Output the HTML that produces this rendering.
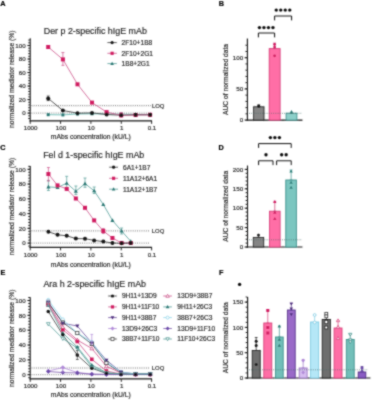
<!DOCTYPE html>
<html><head><meta charset="utf-8"><style>
html,body{margin:0;padding:0;background:#fff;width:372px;height:400px;overflow:hidden}
svg{display:block}
text{font-family:"Liberation Sans",sans-serif;stroke:currentColor;stroke-width:0.18px}
</style></head><body>
<svg width="372" height="400" viewBox="0 0 372 400">
<defs><filter id="bl" x="0" y="0" width="372" height="400" filterUnits="userSpaceOnUse"><feConvolveMatrix order="3" kernelMatrix="0.04 0.1 0.04 0.1 0.44 0.1 0.04 0.1 0.04" edgeMode="duplicate"/></filter></defs>
<rect width="372" height="400" fill="#fff"/>
<g filter="url(#bl)">
<text x="0.2" y="6.3" font-size="7.3" text-anchor="start" font-weight="bold" fill="#000" color="#000">A</text>
<text x="95.3" y="33.6" font-size="8.9" text-anchor="middle" font-weight="normal" fill="#2a2a2a" color="#2a2a2a">Der p 2-specific hIgE mAb</text>
<line x1="30.2" y1="38.2" x2="30.2" y2="121.4" stroke="#1a1a1a" stroke-width="1.1"/>
<line x1="28.2" y1="118.51" x2="30.2" y2="118.51" stroke="#1a1a1a" stroke-width="0.9"/>
<line x1="28.2" y1="115.8" x2="30.2" y2="115.8" stroke="#1a1a1a" stroke-width="0.9"/>
<line x1="28.2" y1="113.1" x2="30.2" y2="113.1" stroke="#1a1a1a" stroke-width="0.9"/>
<line x1="28.2" y1="110.4" x2="30.2" y2="110.4" stroke="#1a1a1a" stroke-width="0.9"/>
<line x1="28.2" y1="107.69" x2="30.2" y2="107.69" stroke="#1a1a1a" stroke-width="0.9"/>
<line x1="28.2" y1="104.99" x2="30.2" y2="104.99" stroke="#1a1a1a" stroke-width="0.9"/>
<line x1="28.2" y1="102.28" x2="30.2" y2="102.28" stroke="#1a1a1a" stroke-width="0.9"/>
<line x1="28.2" y1="99.58" x2="30.2" y2="99.58" stroke="#1a1a1a" stroke-width="0.9"/>
<line x1="28.2" y1="96.88" x2="30.2" y2="96.88" stroke="#1a1a1a" stroke-width="0.9"/>
<line x1="28.2" y1="94.17" x2="30.2" y2="94.17" stroke="#1a1a1a" stroke-width="0.9"/>
<line x1="28.2" y1="91.47" x2="30.2" y2="91.47" stroke="#1a1a1a" stroke-width="0.9"/>
<line x1="28.2" y1="88.76" x2="30.2" y2="88.76" stroke="#1a1a1a" stroke-width="0.9"/>
<line x1="28.2" y1="86.06" x2="30.2" y2="86.06" stroke="#1a1a1a" stroke-width="0.9"/>
<line x1="28.2" y1="83.36" x2="30.2" y2="83.36" stroke="#1a1a1a" stroke-width="0.9"/>
<line x1="28.2" y1="80.65" x2="30.2" y2="80.65" stroke="#1a1a1a" stroke-width="0.9"/>
<line x1="28.2" y1="77.95" x2="30.2" y2="77.95" stroke="#1a1a1a" stroke-width="0.9"/>
<line x1="28.2" y1="75.24" x2="30.2" y2="75.24" stroke="#1a1a1a" stroke-width="0.9"/>
<line x1="28.2" y1="72.54" x2="30.2" y2="72.54" stroke="#1a1a1a" stroke-width="0.9"/>
<line x1="28.2" y1="69.84" x2="30.2" y2="69.84" stroke="#1a1a1a" stroke-width="0.9"/>
<line x1="28.2" y1="67.13" x2="30.2" y2="67.13" stroke="#1a1a1a" stroke-width="0.9"/>
<line x1="28.2" y1="64.43" x2="30.2" y2="64.43" stroke="#1a1a1a" stroke-width="0.9"/>
<line x1="28.2" y1="61.72" x2="30.2" y2="61.72" stroke="#1a1a1a" stroke-width="0.9"/>
<line x1="28.2" y1="59.02" x2="30.2" y2="59.02" stroke="#1a1a1a" stroke-width="0.9"/>
<line x1="28.2" y1="56.32" x2="30.2" y2="56.32" stroke="#1a1a1a" stroke-width="0.9"/>
<line x1="28.2" y1="53.61" x2="30.2" y2="53.61" stroke="#1a1a1a" stroke-width="0.9"/>
<line x1="28.2" y1="50.91" x2="30.2" y2="50.91" stroke="#1a1a1a" stroke-width="0.9"/>
<line x1="28.2" y1="48.2" x2="30.2" y2="48.2" stroke="#1a1a1a" stroke-width="0.9"/>
<line x1="28.2" y1="45.5" x2="30.2" y2="45.5" stroke="#1a1a1a" stroke-width="0.9"/>
<line x1="28.2" y1="42.8" x2="30.2" y2="42.8" stroke="#1a1a1a" stroke-width="0.9"/>
<line x1="28.2" y1="40.09" x2="30.2" y2="40.09" stroke="#1a1a1a" stroke-width="0.9"/>
<line x1="27.3" y1="113.1" x2="30.2" y2="113.1" stroke="#1a1a1a" stroke-width="0.9"/>
<text x="25.6" y="115.3" font-size="6.2" text-anchor="end" font-weight="normal" fill="#2a2a2a" color="#2a2a2a">0</text>
<line x1="27.3" y1="99.58" x2="30.2" y2="99.58" stroke="#1a1a1a" stroke-width="0.9"/>
<text x="25.6" y="101.78" font-size="6.2" text-anchor="end" font-weight="normal" fill="#2a2a2a" color="#2a2a2a">20</text>
<line x1="27.3" y1="86.06" x2="30.2" y2="86.06" stroke="#1a1a1a" stroke-width="0.9"/>
<text x="25.6" y="88.26" font-size="6.2" text-anchor="end" font-weight="normal" fill="#2a2a2a" color="#2a2a2a">40</text>
<line x1="27.3" y1="72.54" x2="30.2" y2="72.54" stroke="#1a1a1a" stroke-width="0.9"/>
<text x="25.6" y="74.74" font-size="6.2" text-anchor="end" font-weight="normal" fill="#2a2a2a" color="#2a2a2a">60</text>
<line x1="27.3" y1="59.02" x2="30.2" y2="59.02" stroke="#1a1a1a" stroke-width="0.9"/>
<text x="25.6" y="61.22" font-size="6.2" text-anchor="end" font-weight="normal" fill="#2a2a2a" color="#2a2a2a">80</text>
<line x1="27.3" y1="45.5" x2="30.2" y2="45.5" stroke="#1a1a1a" stroke-width="0.9"/>
<text x="25.6" y="47.7" font-size="6.2" text-anchor="end" font-weight="normal" fill="#2a2a2a" color="#2a2a2a">100</text>
<text x="14.4" y="79.2" font-size="6.75" text-anchor="middle" font-weight="normal" fill="#2a2a2a" color="#2a2a2a" transform="rotate(-90 14.4 79.2)">normalized mediator release (%)</text>
<line x1="29.65" y1="120.9" x2="152" y2="120.9" stroke="#1a1a1a" stroke-width="1.1"/>
<line x1="30.2" y1="120.9" x2="30.2" y2="123.9" stroke="#1a1a1a" stroke-width="0.9"/>
<text x="30.6" y="130.1" font-size="6.2" text-anchor="middle" font-weight="normal" fill="#2a2a2a" color="#2a2a2a">1000</text>
<line x1="60.55" y1="120.9" x2="60.55" y2="123.9" stroke="#1a1a1a" stroke-width="0.9"/>
<text x="60.95" y="130.1" font-size="6.2" text-anchor="middle" font-weight="normal" fill="#2a2a2a" color="#2a2a2a">100</text>
<line x1="90.9" y1="120.9" x2="90.9" y2="123.9" stroke="#1a1a1a" stroke-width="0.9"/>
<text x="91.3" y="130.1" font-size="6.2" text-anchor="middle" font-weight="normal" fill="#2a2a2a" color="#2a2a2a">10</text>
<line x1="121.25" y1="120.9" x2="121.25" y2="123.9" stroke="#1a1a1a" stroke-width="0.9"/>
<text x="121.65" y="130.1" font-size="6.2" text-anchor="middle" font-weight="normal" fill="#2a2a2a" color="#2a2a2a">1</text>
<line x1="151.6" y1="120.9" x2="151.6" y2="123.9" stroke="#1a1a1a" stroke-width="0.9"/>
<text x="152" y="130.1" font-size="6.2" text-anchor="middle" font-weight="normal" fill="#2a2a2a" color="#2a2a2a">0.1</text>
<text x="90.8" y="139.2" font-size="6.75" text-anchor="middle" font-weight="normal" fill="#2a2a2a" color="#2a2a2a">mAbs concentration (kU/L)</text>
<line x1="31.5" y1="105.7" x2="151" y2="105.7" stroke="#333" stroke-width="0.75" stroke-dasharray="0.9 1.3"/>
<line x1="31.5" y1="113.1" x2="151" y2="113.1" stroke="#444" stroke-width="0.75" stroke-dasharray="0.9 1.3"/>
<text x="151.9" y="107.8" font-size="5.9" text-anchor="start" font-weight="normal" fill="#2a2a2a" color="#2a2a2a">LOQ</text>
<polyline points="48.2,114.7 62.9,114.9 77.5,114 92,113.8 106.6,114 121.2,114.2 135.6,114.5 150.1,114.6" fill="none" stroke="#7cc3bd" stroke-width="1.0" stroke-linejoin="round"/>
<rect x="46.7" y="113.2" width="3" height="3" fill="#2a7773"/>
<rect x="61.4" y="113.4" width="3" height="3" fill="#2a7773"/>
<rect x="76" y="112.5" width="3" height="3" fill="#2a7773"/>
<rect x="90.5" y="112.3" width="3" height="3" fill="#2a7773"/>
<rect x="105.1" y="112.5" width="3" height="3" fill="#2a7773"/>
<rect x="119.7" y="112.7" width="3" height="3" fill="#2a7773"/>
<rect x="134.1" y="113" width="3" height="3" fill="#2a7773"/>
<rect x="148.6" y="113.1" width="3" height="3" fill="#2a7773"/>
<polyline points="48.2,98.4 62.9,110.5 77.5,113.2 92,112.9 106.6,114.5 121.2,115.3 135.6,114.8 150.1,114.8" fill="none" stroke="#2a2a2a" stroke-width="0.8" stroke-linejoin="round"/>
<polyline points="48.2,47 62.9,59.4 77.5,84.3 92,102.6 106.6,112.1 121.2,115.3 135.6,115 150.1,114.8" fill="none" stroke="#cc4f88" stroke-width="0.8" stroke-linejoin="round"/>
<line x1="62.9" y1="52.5" x2="62.9" y2="65.4" stroke="#cc4f88" stroke-width="0.7"/>
<line x1="61.4" y1="52.5" x2="64.4" y2="52.5" stroke="#cc4f88" stroke-width="0.7"/>
<line x1="61.4" y1="65.4" x2="64.4" y2="65.4" stroke="#cc4f88" stroke-width="0.7"/>
<line x1="121.2" y1="112.5" x2="121.2" y2="117" stroke="#cc4f88" stroke-width="0.7"/>
<line x1="119.7" y1="112.5" x2="122.7" y2="112.5" stroke="#cc4f88" stroke-width="0.7"/>
<line x1="119.7" y1="117" x2="122.7" y2="117" stroke="#cc4f88" stroke-width="0.7"/>
<rect x="46.2" y="45" width="4" height="4" fill="#d01a60"/>
<rect x="60.9" y="57.4" width="4" height="4" fill="#d01a60"/>
<rect x="75.5" y="82.3" width="4" height="4" fill="#d01a60"/>
<rect x="90" y="100.6" width="4" height="4" fill="#d01a60"/>
<rect x="104.6" y="110.1" width="4" height="4" fill="#d01a60"/>
<rect x="119.2" y="113.3" width="4" height="4" fill="#d01a60"/>
<rect x="133.6" y="113" width="4" height="4" fill="#d01a60"/>
<rect x="148.1" y="112.8" width="4" height="4" fill="#d01a60"/>
<line x1="48.2" y1="96" x2="48.2" y2="100.6" stroke="#333" stroke-width="0.7"/>
<line x1="46.7" y1="96" x2="49.7" y2="96" stroke="#333" stroke-width="0.7"/>
<line x1="46.7" y1="100.6" x2="49.7" y2="100.6" stroke="#333" stroke-width="0.7"/>
<circle cx="48.2" cy="98.4" r="2" fill="#161616"/>
<circle cx="62.9" cy="110.5" r="2" fill="#161616"/>
<circle cx="77.5" cy="113.2" r="2" fill="#161616"/>
<circle cx="92" cy="112.9" r="2" fill="#161616"/>
<circle cx="106.6" cy="114.5" r="2" fill="#161616"/>
<circle cx="121.2" cy="115.3" r="2" fill="#161616"/>
<circle cx="135.6" cy="114.8" r="2" fill="#161616"/>
<circle cx="150.1" cy="114.8" r="2" fill="#161616"/>
<line x1="107.4" y1="42.6" x2="116.8" y2="42.6" stroke="#333" stroke-width="0.8"/>
<circle cx="112.1" cy="42.6" r="1.6" fill="#161616"/>
<text x="121.6" y="45" font-size="6.6" text-anchor="start" font-weight="normal" fill="#2a2a2a" color="#2a2a2a">2F10+1B8</text>
<line x1="107.4" y1="53.3" x2="116.8" y2="53.3" stroke="#cc4f88" stroke-width="0.8"/>
<rect x="110.5" y="51.7" width="3.2" height="3.2" fill="#d01a60"/>
<text x="121.6" y="55.7" font-size="6.6" text-anchor="start" font-weight="normal" fill="#2a2a2a" color="#2a2a2a">2F10+2G1</text>
<line x1="107.4" y1="63.6" x2="116.8" y2="63.6" stroke="#519c97" stroke-width="0.8"/>
<polygon points="112.1,61.76 110.26,64.96 113.94,64.96" fill="#2a7773"/>
<text x="121.6" y="66" font-size="6.6" text-anchor="start" font-weight="normal" fill="#2a2a2a" color="#2a2a2a">1B8+2G1</text>
<text x="218.7" y="5.9" font-size="7.3" text-anchor="start" font-weight="bold" fill="#000" color="#000">B</text>
<line x1="247.4" y1="38.5" x2="247.4" y2="120.6" stroke="#1a1a1a" stroke-width="1.1"/>
<line x1="245.4" y1="120.1" x2="247.4" y2="120.1" stroke="#1a1a1a" stroke-width="0.9"/>
<line x1="245.4" y1="113.86" x2="247.4" y2="113.86" stroke="#1a1a1a" stroke-width="0.9"/>
<line x1="245.4" y1="107.62" x2="247.4" y2="107.62" stroke="#1a1a1a" stroke-width="0.9"/>
<line x1="245.4" y1="101.38" x2="247.4" y2="101.38" stroke="#1a1a1a" stroke-width="0.9"/>
<line x1="245.4" y1="95.14" x2="247.4" y2="95.14" stroke="#1a1a1a" stroke-width="0.9"/>
<line x1="245.4" y1="88.9" x2="247.4" y2="88.9" stroke="#1a1a1a" stroke-width="0.9"/>
<line x1="245.4" y1="82.66" x2="247.4" y2="82.66" stroke="#1a1a1a" stroke-width="0.9"/>
<line x1="245.4" y1="76.42" x2="247.4" y2="76.42" stroke="#1a1a1a" stroke-width="0.9"/>
<line x1="245.4" y1="70.18" x2="247.4" y2="70.18" stroke="#1a1a1a" stroke-width="0.9"/>
<line x1="245.4" y1="63.94" x2="247.4" y2="63.94" stroke="#1a1a1a" stroke-width="0.9"/>
<line x1="245.4" y1="57.7" x2="247.4" y2="57.7" stroke="#1a1a1a" stroke-width="0.9"/>
<line x1="245.4" y1="51.46" x2="247.4" y2="51.46" stroke="#1a1a1a" stroke-width="0.9"/>
<line x1="245.4" y1="45.22" x2="247.4" y2="45.22" stroke="#1a1a1a" stroke-width="0.9"/>
<line x1="244.5" y1="120.1" x2="247.4" y2="120.1" stroke="#1a1a1a" stroke-width="0.9"/>
<text x="243.2" y="122.3" font-size="6.2" text-anchor="end" font-weight="normal" fill="#2a2a2a" color="#2a2a2a">0</text>
<line x1="244.5" y1="88.9" x2="247.4" y2="88.9" stroke="#1a1a1a" stroke-width="0.9"/>
<text x="243.2" y="91.1" font-size="6.2" text-anchor="end" font-weight="normal" fill="#2a2a2a" color="#2a2a2a">50</text>
<line x1="244.5" y1="57.7" x2="247.4" y2="57.7" stroke="#1a1a1a" stroke-width="0.9"/>
<text x="243.2" y="59.9" font-size="6.2" text-anchor="end" font-weight="normal" fill="#2a2a2a" color="#2a2a2a">100</text>
<text x="228" y="79.5" font-size="6.7" text-anchor="middle" font-weight="normal" fill="#2a2a2a" color="#2a2a2a" transform="rotate(-90 228 79.5)">AUC of normalized data</text>
<line x1="246.9" y1="120.1" x2="302.5" y2="120.1" stroke="#1a1a1a" stroke-width="1.1"/>
<rect x="253.6" y="106.8" width="10.4" height="13.3" fill="#858585" stroke="#1a1a1a" stroke-width="0.9"/>
<rect x="269.2" y="48.6" width="10.9" height="71.5" fill="#ff6ea6" stroke="#d8407a" stroke-width="0.9"/>
<rect x="286.1" y="113.2" width="10.8" height="6.9" fill="#8ccfc9" stroke="#3a918c" stroke-width="0.9"/>
<line x1="258.8" y1="105" x2="258.8" y2="106.8" stroke="#1a1a1a" stroke-width="0.7"/>
<line x1="257.4" y1="105" x2="260.2" y2="105" stroke="#1a1a1a" stroke-width="0.7"/>
<line x1="257.4" y1="106.8" x2="260.2" y2="106.8" stroke="#1a1a1a" stroke-width="0.7"/>
<circle cx="258.8" cy="105.9" r="1.4" fill="#161616"/>
<circle cx="258.8" cy="106.5" r="1.4" fill="#161616"/>
<line x1="274.6" y1="43.1" x2="274.6" y2="48.6" stroke="#c8306c" stroke-width="0.7"/>
<line x1="273.2" y1="43.1" x2="276" y2="43.1" stroke="#c8306c" stroke-width="0.7"/>
<line x1="273.2" y1="48.6" x2="276" y2="48.6" stroke="#c8306c" stroke-width="0.7"/>
<circle cx="274.6" cy="44.4" r="1.4" fill="#d01a60"/>
<circle cx="274.6" cy="47.1" r="1.4" fill="#d01a60"/>
<circle cx="274.6" cy="55.8" r="1.4" fill="#d01a60"/>
<polygon points="291.5,109.99 289.89,112.79 293.11,112.79" fill="#2a7773"/>
<polygon points="291.5,111.19 289.89,113.99 293.11,113.99" fill="#2a7773"/>
<line x1="249" y1="113.3" x2="302" y2="113.3" stroke="#4a6a68" stroke-width="0.75" stroke-dasharray="0.9 1.3"/>
<polyline points="258.4,37.4 258.4,33 274.6,33 274.6,37.4" fill="none" stroke="#151515" stroke-width="1.0"/>
<polyline points="274.6,20.4 274.6,16 291.6,16 291.6,20.4" fill="none" stroke="#151515" stroke-width="1.0"/>
<circle cx="259.45" cy="27.6" r="1.7" fill="#111"/>
<circle cx="263.95" cy="27.6" r="1.7" fill="#111"/>
<circle cx="268.45" cy="27.6" r="1.7" fill="#111"/>
<circle cx="272.95" cy="27.6" r="1.7" fill="#111"/>
<circle cx="276.25" cy="10.1" r="1.7" fill="#111"/>
<circle cx="280.75" cy="10.1" r="1.7" fill="#111"/>
<circle cx="285.25" cy="10.1" r="1.7" fill="#111"/>
<circle cx="289.75" cy="10.1" r="1.7" fill="#111"/>
<text x="0.2" y="149.9" font-size="7.3" text-anchor="start" font-weight="bold" fill="#000" color="#000">C</text>
<text x="93.7" y="158" font-size="8.9" text-anchor="middle" font-weight="normal" fill="#2a2a2a" color="#2a2a2a">Fel d 1-specific hIgE mAb</text>
<line x1="30.2" y1="166" x2="30.2" y2="247.9" stroke="#1a1a1a" stroke-width="1.1"/>
<line x1="28.2" y1="246.05" x2="30.2" y2="246.05" stroke="#1a1a1a" stroke-width="0.9"/>
<line x1="28.2" y1="243.1" x2="30.2" y2="243.1" stroke="#1a1a1a" stroke-width="0.9"/>
<line x1="28.2" y1="240.15" x2="30.2" y2="240.15" stroke="#1a1a1a" stroke-width="0.9"/>
<line x1="28.2" y1="237.2" x2="30.2" y2="237.2" stroke="#1a1a1a" stroke-width="0.9"/>
<line x1="28.2" y1="234.24" x2="30.2" y2="234.24" stroke="#1a1a1a" stroke-width="0.9"/>
<line x1="28.2" y1="231.29" x2="30.2" y2="231.29" stroke="#1a1a1a" stroke-width="0.9"/>
<line x1="28.2" y1="228.34" x2="30.2" y2="228.34" stroke="#1a1a1a" stroke-width="0.9"/>
<line x1="28.2" y1="225.39" x2="30.2" y2="225.39" stroke="#1a1a1a" stroke-width="0.9"/>
<line x1="28.2" y1="222.44" x2="30.2" y2="222.44" stroke="#1a1a1a" stroke-width="0.9"/>
<line x1="28.2" y1="219.48" x2="30.2" y2="219.48" stroke="#1a1a1a" stroke-width="0.9"/>
<line x1="28.2" y1="216.53" x2="30.2" y2="216.53" stroke="#1a1a1a" stroke-width="0.9"/>
<line x1="28.2" y1="213.58" x2="30.2" y2="213.58" stroke="#1a1a1a" stroke-width="0.9"/>
<line x1="28.2" y1="210.63" x2="30.2" y2="210.63" stroke="#1a1a1a" stroke-width="0.9"/>
<line x1="28.2" y1="207.68" x2="30.2" y2="207.68" stroke="#1a1a1a" stroke-width="0.9"/>
<line x1="28.2" y1="204.72" x2="30.2" y2="204.72" stroke="#1a1a1a" stroke-width="0.9"/>
<line x1="28.2" y1="201.77" x2="30.2" y2="201.77" stroke="#1a1a1a" stroke-width="0.9"/>
<line x1="28.2" y1="198.82" x2="30.2" y2="198.82" stroke="#1a1a1a" stroke-width="0.9"/>
<line x1="28.2" y1="195.87" x2="30.2" y2="195.87" stroke="#1a1a1a" stroke-width="0.9"/>
<line x1="28.2" y1="192.92" x2="30.2" y2="192.92" stroke="#1a1a1a" stroke-width="0.9"/>
<line x1="28.2" y1="189.96" x2="30.2" y2="189.96" stroke="#1a1a1a" stroke-width="0.9"/>
<line x1="28.2" y1="187.01" x2="30.2" y2="187.01" stroke="#1a1a1a" stroke-width="0.9"/>
<line x1="28.2" y1="184.06" x2="30.2" y2="184.06" stroke="#1a1a1a" stroke-width="0.9"/>
<line x1="28.2" y1="181.11" x2="30.2" y2="181.11" stroke="#1a1a1a" stroke-width="0.9"/>
<line x1="28.2" y1="178.16" x2="30.2" y2="178.16" stroke="#1a1a1a" stroke-width="0.9"/>
<line x1="28.2" y1="175.2" x2="30.2" y2="175.2" stroke="#1a1a1a" stroke-width="0.9"/>
<line x1="28.2" y1="172.25" x2="30.2" y2="172.25" stroke="#1a1a1a" stroke-width="0.9"/>
<line x1="28.2" y1="169.3" x2="30.2" y2="169.3" stroke="#1a1a1a" stroke-width="0.9"/>
<line x1="28.2" y1="166.35" x2="30.2" y2="166.35" stroke="#1a1a1a" stroke-width="0.9"/>
<line x1="27.3" y1="243.1" x2="30.2" y2="243.1" stroke="#1a1a1a" stroke-width="0.9"/>
<text x="25.6" y="245.3" font-size="6.2" text-anchor="end" font-weight="normal" fill="#2a2a2a" color="#2a2a2a">0</text>
<line x1="27.3" y1="228.34" x2="30.2" y2="228.34" stroke="#1a1a1a" stroke-width="0.9"/>
<text x="25.6" y="230.54" font-size="6.2" text-anchor="end" font-weight="normal" fill="#2a2a2a" color="#2a2a2a">20</text>
<line x1="27.3" y1="213.58" x2="30.2" y2="213.58" stroke="#1a1a1a" stroke-width="0.9"/>
<text x="25.6" y="215.78" font-size="6.2" text-anchor="end" font-weight="normal" fill="#2a2a2a" color="#2a2a2a">40</text>
<line x1="27.3" y1="198.82" x2="30.2" y2="198.82" stroke="#1a1a1a" stroke-width="0.9"/>
<text x="25.6" y="201.02" font-size="6.2" text-anchor="end" font-weight="normal" fill="#2a2a2a" color="#2a2a2a">60</text>
<line x1="27.3" y1="184.06" x2="30.2" y2="184.06" stroke="#1a1a1a" stroke-width="0.9"/>
<text x="25.6" y="186.26" font-size="6.2" text-anchor="end" font-weight="normal" fill="#2a2a2a" color="#2a2a2a">80</text>
<line x1="27.3" y1="169.3" x2="30.2" y2="169.3" stroke="#1a1a1a" stroke-width="0.9"/>
<text x="25.6" y="171.5" font-size="6.2" text-anchor="end" font-weight="normal" fill="#2a2a2a" color="#2a2a2a">100</text>
<text x="14.4" y="206.6" font-size="6.75" text-anchor="middle" font-weight="normal" fill="#2a2a2a" color="#2a2a2a" transform="rotate(-90 14.4 206.6)">normalized mediator release (%)</text>
<line x1="29.65" y1="247.4" x2="152" y2="247.4" stroke="#1a1a1a" stroke-width="1.1"/>
<line x1="30.2" y1="247.4" x2="30.2" y2="250.4" stroke="#1a1a1a" stroke-width="0.9"/>
<text x="30.6" y="257" font-size="6.2" text-anchor="middle" font-weight="normal" fill="#2a2a2a" color="#2a2a2a">1000</text>
<line x1="60.55" y1="247.4" x2="60.55" y2="250.4" stroke="#1a1a1a" stroke-width="0.9"/>
<text x="60.95" y="257" font-size="6.2" text-anchor="middle" font-weight="normal" fill="#2a2a2a" color="#2a2a2a">100</text>
<line x1="90.9" y1="247.4" x2="90.9" y2="250.4" stroke="#1a1a1a" stroke-width="0.9"/>
<text x="91.3" y="257" font-size="6.2" text-anchor="middle" font-weight="normal" fill="#2a2a2a" color="#2a2a2a">10</text>
<line x1="121.25" y1="247.4" x2="121.25" y2="250.4" stroke="#1a1a1a" stroke-width="0.9"/>
<text x="121.65" y="257" font-size="6.2" text-anchor="middle" font-weight="normal" fill="#2a2a2a" color="#2a2a2a">1</text>
<line x1="151.6" y1="247.4" x2="151.6" y2="250.4" stroke="#1a1a1a" stroke-width="0.9"/>
<text x="152" y="257" font-size="6.2" text-anchor="middle" font-weight="normal" fill="#2a2a2a" color="#2a2a2a">0.1</text>
<text x="90.8" y="266.9" font-size="6.75" text-anchor="middle" font-weight="normal" fill="#2a2a2a" color="#2a2a2a">mAbs concentration (kU/L)</text>
<line x1="31.5" y1="230.9" x2="150" y2="230.9" stroke="#333" stroke-width="0.75" stroke-dasharray="0.9 1.3"/>
<line x1="31.5" y1="243.1" x2="150" y2="243.1" stroke="#444" stroke-width="0.75" stroke-dasharray="0.9 1.3"/>
<text x="151.8" y="233.2" font-size="5.9" text-anchor="start" font-weight="normal" fill="#2a2a2a" color="#2a2a2a">LOQ</text>
<polyline points="48.4,186.9 57.55,187.5 66.7,183.2 75.85,191.3 85,183.6 94.15,190.8 103.3,204.5 112.45,220.4 121.6,231 130.75,241.3" fill="none" stroke="#519c97" stroke-width="0.8" stroke-linejoin="round"/>
<line x1="48.4" y1="180.4" x2="48.4" y2="190.5" stroke="#519c97" stroke-width="0.7"/>
<line x1="46.9" y1="180.4" x2="49.9" y2="180.4" stroke="#519c97" stroke-width="0.7"/>
<line x1="46.9" y1="190.5" x2="49.9" y2="190.5" stroke="#519c97" stroke-width="0.7"/>
<line x1="66.7" y1="176.3" x2="66.7" y2="189" stroke="#519c97" stroke-width="0.7"/>
<line x1="65.2" y1="176.3" x2="68.2" y2="176.3" stroke="#519c97" stroke-width="0.7"/>
<line x1="65.2" y1="189" x2="68.2" y2="189" stroke="#519c97" stroke-width="0.7"/>
<line x1="75.9" y1="186" x2="75.9" y2="194.5" stroke="#519c97" stroke-width="0.7"/>
<line x1="74.4" y1="186" x2="77.4" y2="186" stroke="#519c97" stroke-width="0.7"/>
<line x1="74.4" y1="194.5" x2="77.4" y2="194.5" stroke="#519c97" stroke-width="0.7"/>
<line x1="85" y1="178" x2="85" y2="187.3" stroke="#519c97" stroke-width="0.7"/>
<line x1="83.5" y1="178" x2="86.5" y2="178" stroke="#519c97" stroke-width="0.7"/>
<line x1="83.5" y1="187.3" x2="86.5" y2="187.3" stroke="#519c97" stroke-width="0.7"/>
<line x1="94.2" y1="187" x2="94.2" y2="193.5" stroke="#519c97" stroke-width="0.7"/>
<line x1="92.7" y1="187" x2="95.7" y2="187" stroke="#519c97" stroke-width="0.7"/>
<line x1="92.7" y1="193.5" x2="95.7" y2="193.5" stroke="#519c97" stroke-width="0.7"/>
<line x1="121.6" y1="228" x2="121.6" y2="234" stroke="#519c97" stroke-width="0.7"/>
<line x1="120.1" y1="228" x2="123.1" y2="228" stroke="#519c97" stroke-width="0.7"/>
<line x1="120.1" y1="234" x2="123.1" y2="234" stroke="#519c97" stroke-width="0.7"/>
<polygon points="48.4,184.83 46.33,188.43 50.47,188.43" fill="#2a7773"/>
<polygon points="57.55,185.43 55.48,189.03 59.62,189.03" fill="#2a7773"/>
<polygon points="66.7,181.13 64.63,184.73 68.77,184.73" fill="#2a7773"/>
<polygon points="75.85,189.23 73.78,192.83 77.92,192.83" fill="#2a7773"/>
<polygon points="85,181.53 82.93,185.13 87.07,185.13" fill="#2a7773"/>
<polygon points="94.15,188.73 92.08,192.33 96.22,192.33" fill="#2a7773"/>
<polygon points="103.3,202.43 101.23,206.03 105.37,206.03" fill="#2a7773"/>
<polygon points="112.45,218.33 110.38,221.93 114.52,221.93" fill="#2a7773"/>
<polygon points="121.6,228.93 119.53,232.53 123.67,232.53" fill="#2a7773"/>
<polygon points="130.75,239.23 128.68,242.83 132.82,242.83" fill="#2a7773"/>
<polyline points="48.4,174 57.55,185.4 66.7,188.9 75.85,198.5 85,207.8 94.15,220.4 103.3,231 112.45,238 121.6,243 130.75,243" fill="none" stroke="#cc4f88" stroke-width="0.8" stroke-linejoin="round"/>
<line x1="48.4" y1="167.5" x2="48.4" y2="181" stroke="#cc4f88" stroke-width="0.7"/>
<line x1="46.9" y1="167.5" x2="49.9" y2="167.5" stroke="#cc4f88" stroke-width="0.7"/>
<line x1="46.9" y1="181" x2="49.9" y2="181" stroke="#cc4f88" stroke-width="0.7"/>
<line x1="103.3" y1="228.5" x2="103.3" y2="233.5" stroke="#cc4f88" stroke-width="0.7"/>
<line x1="101.8" y1="228.5" x2="104.8" y2="228.5" stroke="#cc4f88" stroke-width="0.7"/>
<line x1="101.8" y1="233.5" x2="104.8" y2="233.5" stroke="#cc4f88" stroke-width="0.7"/>
<rect x="46.4" y="172" width="4" height="4" fill="#d01a60"/>
<rect x="55.55" y="183.4" width="4" height="4" fill="#d01a60"/>
<rect x="64.7" y="186.9" width="4" height="4" fill="#d01a60"/>
<rect x="73.85" y="196.5" width="4" height="4" fill="#d01a60"/>
<rect x="83" y="205.8" width="4" height="4" fill="#d01a60"/>
<rect x="92.15" y="218.4" width="4" height="4" fill="#d01a60"/>
<rect x="101.3" y="229" width="4" height="4" fill="#d01a60"/>
<rect x="110.45" y="236" width="4" height="4" fill="#d01a60"/>
<rect x="119.6" y="241" width="4" height="4" fill="#d01a60"/>
<rect x="128.75" y="241" width="4" height="4" fill="#d01a60"/>
<polyline points="48.4,231.8 57.55,234.8 66.7,235.8 75.85,238.6 85,238.7 94.15,240.4 103.3,241.6 112.45,243 121.6,243.3 130.75,243" fill="none" stroke="#2a2a2a" stroke-width="0.8" stroke-linejoin="round"/>
<circle cx="48.4" cy="231.8" r="2" fill="#161616"/>
<circle cx="57.55" cy="234.8" r="2" fill="#161616"/>
<circle cx="66.7" cy="235.8" r="2" fill="#161616"/>
<circle cx="75.85" cy="238.6" r="2" fill="#161616"/>
<circle cx="85" cy="238.7" r="2" fill="#161616"/>
<circle cx="94.15" cy="240.4" r="2" fill="#161616"/>
<circle cx="103.3" cy="241.6" r="2" fill="#161616"/>
<circle cx="112.45" cy="243" r="2" fill="#161616"/>
<circle cx="121.6" cy="243.3" r="2" fill="#161616"/>
<circle cx="130.75" cy="243" r="2" fill="#161616"/>
<line x1="109.2" y1="167.2" x2="118" y2="167.2" stroke="#333" stroke-width="0.8"/>
<circle cx="113.6" cy="167.2" r="1.6" fill="#161616"/>
<text x="123" y="169.6" font-size="6.6" text-anchor="start" font-weight="normal" fill="#2a2a2a" color="#2a2a2a">6A1+1B7</text>
<line x1="109.2" y1="178.3" x2="118" y2="178.3" stroke="#cc4f88" stroke-width="0.8"/>
<rect x="112" y="176.7" width="3.2" height="3.2" fill="#d01a60"/>
<text x="123" y="180.7" font-size="6.6" text-anchor="start" font-weight="normal" fill="#2a2a2a" color="#2a2a2a">11A12+6A1</text>
<line x1="109.2" y1="189.2" x2="118" y2="189.2" stroke="#519c97" stroke-width="0.8"/>
<polygon points="113.6,187.36 111.76,190.56 115.44,190.56" fill="#2a7773"/>
<text x="123" y="191.6" font-size="6.6" text-anchor="start" font-weight="normal" fill="#2a2a2a" color="#2a2a2a">11A12+1B7</text>
<text x="218.6" y="150.4" font-size="7.3" text-anchor="start" font-weight="bold" fill="#000" color="#000">D</text>
<line x1="247.5" y1="165.5" x2="247.5" y2="247.5" stroke="#1a1a1a" stroke-width="1.1"/>
<line x1="245.5" y1="247" x2="247.5" y2="247" stroke="#1a1a1a" stroke-width="0.9"/>
<line x1="245.5" y1="243.12" x2="247.5" y2="243.12" stroke="#1a1a1a" stroke-width="0.9"/>
<line x1="245.5" y1="239.24" x2="247.5" y2="239.24" stroke="#1a1a1a" stroke-width="0.9"/>
<line x1="245.5" y1="235.36" x2="247.5" y2="235.36" stroke="#1a1a1a" stroke-width="0.9"/>
<line x1="245.5" y1="231.48" x2="247.5" y2="231.48" stroke="#1a1a1a" stroke-width="0.9"/>
<line x1="245.5" y1="227.6" x2="247.5" y2="227.6" stroke="#1a1a1a" stroke-width="0.9"/>
<line x1="245.5" y1="223.72" x2="247.5" y2="223.72" stroke="#1a1a1a" stroke-width="0.9"/>
<line x1="245.5" y1="219.84" x2="247.5" y2="219.84" stroke="#1a1a1a" stroke-width="0.9"/>
<line x1="245.5" y1="215.96" x2="247.5" y2="215.96" stroke="#1a1a1a" stroke-width="0.9"/>
<line x1="245.5" y1="212.08" x2="247.5" y2="212.08" stroke="#1a1a1a" stroke-width="0.9"/>
<line x1="245.5" y1="208.2" x2="247.5" y2="208.2" stroke="#1a1a1a" stroke-width="0.9"/>
<line x1="245.5" y1="204.32" x2="247.5" y2="204.32" stroke="#1a1a1a" stroke-width="0.9"/>
<line x1="245.5" y1="200.44" x2="247.5" y2="200.44" stroke="#1a1a1a" stroke-width="0.9"/>
<line x1="245.5" y1="196.56" x2="247.5" y2="196.56" stroke="#1a1a1a" stroke-width="0.9"/>
<line x1="245.5" y1="192.68" x2="247.5" y2="192.68" stroke="#1a1a1a" stroke-width="0.9"/>
<line x1="245.5" y1="188.8" x2="247.5" y2="188.8" stroke="#1a1a1a" stroke-width="0.9"/>
<line x1="245.5" y1="184.92" x2="247.5" y2="184.92" stroke="#1a1a1a" stroke-width="0.9"/>
<line x1="245.5" y1="181.04" x2="247.5" y2="181.04" stroke="#1a1a1a" stroke-width="0.9"/>
<line x1="245.5" y1="177.16" x2="247.5" y2="177.16" stroke="#1a1a1a" stroke-width="0.9"/>
<line x1="245.5" y1="173.28" x2="247.5" y2="173.28" stroke="#1a1a1a" stroke-width="0.9"/>
<line x1="245.5" y1="169.4" x2="247.5" y2="169.4" stroke="#1a1a1a" stroke-width="0.9"/>
<line x1="244.6" y1="247" x2="247.5" y2="247" stroke="#1a1a1a" stroke-width="0.9"/>
<text x="243.2" y="249.2" font-size="6.2" text-anchor="end" font-weight="normal" fill="#2a2a2a" color="#2a2a2a">0</text>
<line x1="244.6" y1="227.6" x2="247.5" y2="227.6" stroke="#1a1a1a" stroke-width="0.9"/>
<text x="243.2" y="229.8" font-size="6.2" text-anchor="end" font-weight="normal" fill="#2a2a2a" color="#2a2a2a">50</text>
<line x1="244.6" y1="208.2" x2="247.5" y2="208.2" stroke="#1a1a1a" stroke-width="0.9"/>
<text x="243.2" y="210.4" font-size="6.2" text-anchor="end" font-weight="normal" fill="#2a2a2a" color="#2a2a2a">100</text>
<line x1="244.6" y1="188.8" x2="247.5" y2="188.8" stroke="#1a1a1a" stroke-width="0.9"/>
<text x="243.2" y="191" font-size="6.2" text-anchor="end" font-weight="normal" fill="#2a2a2a" color="#2a2a2a">150</text>
<line x1="244.6" y1="169.4" x2="247.5" y2="169.4" stroke="#1a1a1a" stroke-width="0.9"/>
<text x="243.2" y="171.6" font-size="6.2" text-anchor="end" font-weight="normal" fill="#2a2a2a" color="#2a2a2a">200</text>
<text x="228" y="206.3" font-size="6.7" text-anchor="middle" font-weight="normal" fill="#2a2a2a" color="#2a2a2a" transform="rotate(-90 228 206.3)">AUC of normalized data</text>
<line x1="247" y1="247" x2="302.5" y2="247" stroke="#1a1a1a" stroke-width="1.1"/>
<rect x="253.3" y="237.5" width="10.4" height="9.5" fill="#858585" stroke="#1a1a1a" stroke-width="0.9"/>
<rect x="269.5" y="211.2" width="10.6" height="35.8" fill="#ff6ea6" stroke="#d8407a" stroke-width="0.9"/>
<rect x="285.8" y="180" width="10.6" height="67" fill="#7cc6c0" stroke="#3a918c" stroke-width="0.9"/>
<line x1="258.5" y1="234.5" x2="258.5" y2="237.5" stroke="#1a1a1a" stroke-width="0.7"/>
<line x1="257.1" y1="234.5" x2="259.9" y2="234.5" stroke="#1a1a1a" stroke-width="0.7"/>
<line x1="257.1" y1="237.5" x2="259.9" y2="237.5" stroke="#1a1a1a" stroke-width="0.7"/>
<polygon points="258.5,233.28 256.77,236.28 260.23,236.28" fill="#161616"/>
<line x1="274.8" y1="201.3" x2="274.8" y2="211.2" stroke="#c8306c" stroke-width="0.7"/>
<line x1="273.4" y1="201.3" x2="276.2" y2="201.3" stroke="#c8306c" stroke-width="0.7"/>
<line x1="273.4" y1="211.2" x2="276.2" y2="211.2" stroke="#c8306c" stroke-width="0.7"/>
<polygon points="274.8,200.08 273.07,203.08 276.53,203.08" fill="#d01a60"/>
<polygon points="274.8,210.78 273.07,213.78 276.53,213.78" fill="#d01a60"/>
<polygon points="274.8,217.08 273.07,220.08 276.53,220.08" fill="#d01a60"/>
<line x1="291.1" y1="170" x2="291.1" y2="180" stroke="#3a918c" stroke-width="0.7"/>
<line x1="289.7" y1="170" x2="292.5" y2="170" stroke="#3a918c" stroke-width="0.7"/>
<line x1="289.7" y1="180" x2="292.5" y2="180" stroke="#3a918c" stroke-width="0.7"/>
<polygon points="291.1,169.58 289.38,172.58 292.83,172.58" fill="#2a7e79"/>
<polygon points="291.1,180.78 289.38,183.78 292.83,183.78" fill="#2a7e79"/>
<polygon points="291.1,185.78 289.38,188.78 292.83,188.78" fill="#2a7e79"/>
<line x1="249" y1="239.8" x2="302" y2="239.8" stroke="#4a6a68" stroke-width="0.75" stroke-dasharray="0.9 1.3"/>
<polyline points="258.6,147.9 258.6,143.6 291.2,143.6 291.2,147.9" fill="none" stroke="#151515" stroke-width="1.0"/>
<polyline points="258.6,165.1 258.6,160.8 273,160.8 273,165.1" fill="none" stroke="#151515" stroke-width="1.0"/>
<polyline points="276.6,165.1 276.6,160.8 291.2,160.8 291.2,165.1" fill="none" stroke="#151515" stroke-width="1.0"/>
<circle cx="270.4" cy="137.6" r="1.7" fill="#111"/>
<circle cx="274.9" cy="137.6" r="1.7" fill="#111"/>
<circle cx="279.4" cy="137.6" r="1.7" fill="#111"/>
<circle cx="266" cy="154.8" r="1.7" fill="#111"/>
<circle cx="281.65" cy="154.8" r="1.7" fill="#111"/>
<circle cx="286.15" cy="154.8" r="1.7" fill="#111"/>
<text x="0.4" y="274.5" font-size="7.3" text-anchor="start" font-weight="bold" fill="#000" color="#000">E</text>
<text x="94.7" y="286.5" font-size="8.9" text-anchor="middle" font-weight="normal" fill="#2a2a2a" color="#2a2a2a">Ara h 2-specific hIgE mAb</text>
<line x1="30.2" y1="297.3" x2="30.2" y2="379.4" stroke="#1a1a1a" stroke-width="1.1"/>
<line x1="28.2" y1="377.67" x2="30.2" y2="377.67" stroke="#1a1a1a" stroke-width="0.9"/>
<line x1="28.2" y1="374.7" x2="30.2" y2="374.7" stroke="#1a1a1a" stroke-width="0.9"/>
<line x1="28.2" y1="371.73" x2="30.2" y2="371.73" stroke="#1a1a1a" stroke-width="0.9"/>
<line x1="28.2" y1="368.76" x2="30.2" y2="368.76" stroke="#1a1a1a" stroke-width="0.9"/>
<line x1="28.2" y1="365.8" x2="30.2" y2="365.8" stroke="#1a1a1a" stroke-width="0.9"/>
<line x1="28.2" y1="362.83" x2="30.2" y2="362.83" stroke="#1a1a1a" stroke-width="0.9"/>
<line x1="28.2" y1="359.86" x2="30.2" y2="359.86" stroke="#1a1a1a" stroke-width="0.9"/>
<line x1="28.2" y1="356.89" x2="30.2" y2="356.89" stroke="#1a1a1a" stroke-width="0.9"/>
<line x1="28.2" y1="353.92" x2="30.2" y2="353.92" stroke="#1a1a1a" stroke-width="0.9"/>
<line x1="28.2" y1="350.96" x2="30.2" y2="350.96" stroke="#1a1a1a" stroke-width="0.9"/>
<line x1="28.2" y1="347.99" x2="30.2" y2="347.99" stroke="#1a1a1a" stroke-width="0.9"/>
<line x1="28.2" y1="345.02" x2="30.2" y2="345.02" stroke="#1a1a1a" stroke-width="0.9"/>
<line x1="28.2" y1="342.05" x2="30.2" y2="342.05" stroke="#1a1a1a" stroke-width="0.9"/>
<line x1="28.2" y1="339.08" x2="30.2" y2="339.08" stroke="#1a1a1a" stroke-width="0.9"/>
<line x1="28.2" y1="336.12" x2="30.2" y2="336.12" stroke="#1a1a1a" stroke-width="0.9"/>
<line x1="28.2" y1="333.15" x2="30.2" y2="333.15" stroke="#1a1a1a" stroke-width="0.9"/>
<line x1="28.2" y1="330.18" x2="30.2" y2="330.18" stroke="#1a1a1a" stroke-width="0.9"/>
<line x1="28.2" y1="327.21" x2="30.2" y2="327.21" stroke="#1a1a1a" stroke-width="0.9"/>
<line x1="28.2" y1="324.24" x2="30.2" y2="324.24" stroke="#1a1a1a" stroke-width="0.9"/>
<line x1="28.2" y1="321.28" x2="30.2" y2="321.28" stroke="#1a1a1a" stroke-width="0.9"/>
<line x1="28.2" y1="318.31" x2="30.2" y2="318.31" stroke="#1a1a1a" stroke-width="0.9"/>
<line x1="28.2" y1="315.34" x2="30.2" y2="315.34" stroke="#1a1a1a" stroke-width="0.9"/>
<line x1="28.2" y1="312.37" x2="30.2" y2="312.37" stroke="#1a1a1a" stroke-width="0.9"/>
<line x1="28.2" y1="309.4" x2="30.2" y2="309.4" stroke="#1a1a1a" stroke-width="0.9"/>
<line x1="28.2" y1="306.44" x2="30.2" y2="306.44" stroke="#1a1a1a" stroke-width="0.9"/>
<line x1="28.2" y1="303.47" x2="30.2" y2="303.47" stroke="#1a1a1a" stroke-width="0.9"/>
<line x1="28.2" y1="300.5" x2="30.2" y2="300.5" stroke="#1a1a1a" stroke-width="0.9"/>
<line x1="28.2" y1="297.53" x2="30.2" y2="297.53" stroke="#1a1a1a" stroke-width="0.9"/>
<line x1="27.3" y1="374.7" x2="30.2" y2="374.7" stroke="#1a1a1a" stroke-width="0.9"/>
<text x="25.6" y="376.9" font-size="6.2" text-anchor="end" font-weight="normal" fill="#2a2a2a" color="#2a2a2a">0</text>
<line x1="27.3" y1="359.86" x2="30.2" y2="359.86" stroke="#1a1a1a" stroke-width="0.9"/>
<text x="25.6" y="362.06" font-size="6.2" text-anchor="end" font-weight="normal" fill="#2a2a2a" color="#2a2a2a">20</text>
<line x1="27.3" y1="345.02" x2="30.2" y2="345.02" stroke="#1a1a1a" stroke-width="0.9"/>
<text x="25.6" y="347.22" font-size="6.2" text-anchor="end" font-weight="normal" fill="#2a2a2a" color="#2a2a2a">40</text>
<line x1="27.3" y1="330.18" x2="30.2" y2="330.18" stroke="#1a1a1a" stroke-width="0.9"/>
<text x="25.6" y="332.38" font-size="6.2" text-anchor="end" font-weight="normal" fill="#2a2a2a" color="#2a2a2a">60</text>
<line x1="27.3" y1="315.34" x2="30.2" y2="315.34" stroke="#1a1a1a" stroke-width="0.9"/>
<text x="25.6" y="317.54" font-size="6.2" text-anchor="end" font-weight="normal" fill="#2a2a2a" color="#2a2a2a">80</text>
<line x1="27.3" y1="300.5" x2="30.2" y2="300.5" stroke="#1a1a1a" stroke-width="0.9"/>
<text x="25.6" y="302.7" font-size="6.2" text-anchor="end" font-weight="normal" fill="#2a2a2a" color="#2a2a2a">100</text>
<text x="14.4" y="338.3" font-size="6.75" text-anchor="middle" font-weight="normal" fill="#2a2a2a" color="#2a2a2a" transform="rotate(-90 14.4 338.3)">normalized mediator release (%)</text>
<line x1="29.65" y1="378.9" x2="152" y2="378.9" stroke="#1a1a1a" stroke-width="1.1"/>
<line x1="30.2" y1="378.9" x2="30.2" y2="381.9" stroke="#1a1a1a" stroke-width="0.9"/>
<text x="30.6" y="388.2" font-size="6.2" text-anchor="middle" font-weight="normal" fill="#2a2a2a" color="#2a2a2a">1000</text>
<line x1="60.55" y1="378.9" x2="60.55" y2="381.9" stroke="#1a1a1a" stroke-width="0.9"/>
<text x="60.95" y="388.2" font-size="6.2" text-anchor="middle" font-weight="normal" fill="#2a2a2a" color="#2a2a2a">100</text>
<line x1="90.9" y1="378.9" x2="90.9" y2="381.9" stroke="#1a1a1a" stroke-width="0.9"/>
<text x="91.3" y="388.2" font-size="6.2" text-anchor="middle" font-weight="normal" fill="#2a2a2a" color="#2a2a2a">10</text>
<line x1="121.25" y1="378.9" x2="121.25" y2="381.9" stroke="#1a1a1a" stroke-width="0.9"/>
<text x="121.65" y="388.2" font-size="6.2" text-anchor="middle" font-weight="normal" fill="#2a2a2a" color="#2a2a2a">1</text>
<line x1="151.6" y1="378.9" x2="151.6" y2="381.9" stroke="#1a1a1a" stroke-width="0.9"/>
<text x="152" y="388.2" font-size="6.2" text-anchor="middle" font-weight="normal" fill="#2a2a2a" color="#2a2a2a">0.1</text>
<text x="90.8" y="396.7" font-size="6.75" text-anchor="middle" font-weight="normal" fill="#2a2a2a" color="#2a2a2a">mAbs concentration (kU/L)</text>
<line x1="31.5" y1="368" x2="150" y2="368" stroke="#333" stroke-width="0.75" stroke-dasharray="0.9 1.3"/>
<line x1="31.5" y1="374.7" x2="150" y2="374.7" stroke="#444" stroke-width="0.75" stroke-dasharray="0.9 1.3"/>
<text x="151.8" y="370.2" font-size="5.9" text-anchor="start" font-weight="normal" fill="#2a2a2a" color="#2a2a2a">LOQ</text>
<polyline points="48.3,311.5 62.8,334.8 77.3,355.1 91.8,368.2 106.4,373.5 121,374.5 135.6,374.5 150.2,374.5" fill="none" stroke="#333" stroke-width="0.8" stroke-linejoin="round"/>
<polyline points="48.3,305 62.8,329.8 77.3,341.5 91.8,359.3 106.4,371 121,374 135.6,374.5 150.2,374.5" fill="none" stroke="#cc4f88" stroke-width="0.8" stroke-linejoin="round"/>
<polyline points="48.3,302 62.8,323.3 77.3,326 91.8,343 106.4,360.2 121,372 135.6,374 150.2,374" fill="none" stroke="#6a4a9a" stroke-width="0.8" stroke-linejoin="round"/>
<polyline points="48.3,371 62.8,367.6 77.3,372.5 91.8,374 106.4,374.5 121,374.5 135.6,374.5 150.2,374.5" fill="none" stroke="#b08ad8" stroke-width="0.8" stroke-linejoin="round"/>
<polyline points="48.3,303 62.8,322.5 77.3,333 91.8,344 106.4,363 121,373 135.6,374 150.2,374" fill="none" stroke="#333" stroke-width="0.8" stroke-linejoin="round"/>
<polyline points="48.3,304 62.8,327 77.3,340 91.8,348.5 106.4,366.3 121,373 135.6,374 150.2,374" fill="none" stroke="#cc4f88" stroke-width="0.8" stroke-linejoin="round"/>
<polyline points="48.3,305.2 62.8,333 77.3,347 91.8,365 106.4,372.5 121,374 135.6,374 150.2,374" fill="none" stroke="#519c97" stroke-width="0.8" stroke-linejoin="round"/>
<polyline points="48.3,300 62.8,319.5 77.3,333 91.8,342 106.4,362 121,372 135.6,374 150.2,374" fill="none" stroke="#8fd6ea" stroke-width="0.8" stroke-linejoin="round"/>
<polyline points="48.3,371.5 62.8,372.6 77.3,372.9 91.8,374.3 106.4,374.4 121,374.5 135.6,374.5 150.2,374.5" fill="none" stroke="#7a55a8" stroke-width="0.8" stroke-linejoin="round"/>
<polyline points="48.3,324 62.8,338.6 77.3,348 91.8,367 106.4,373 121,374 135.6,374 150.2,374" fill="none" stroke="#519c97" stroke-width="0.8" stroke-linejoin="round"/>
<polygon points="48.3,302.16 46.46,305.36 50.14,305.36" fill="#fff" stroke="#cc4f88" stroke-width="0.8"/>
<polygon points="62.8,325.16 60.96,328.36 64.64,328.36" fill="#fff" stroke="#cc4f88" stroke-width="0.8"/>
<polygon points="77.3,338.16 75.46,341.36 79.14,341.36" fill="#fff" stroke="#cc4f88" stroke-width="0.8"/>
<polygon points="91.8,346.66 89.96,349.86 93.64,349.86" fill="#fff" stroke="#cc4f88" stroke-width="0.8"/>
<polygon points="106.4,364.46 104.56,367.66 108.24,367.66" fill="#fff" stroke="#cc4f88" stroke-width="0.8"/>
<polygon points="121,371.16 119.16,374.36 122.84,374.36" fill="#fff" stroke="#cc4f88" stroke-width="0.8"/>
<polygon points="135.6,372.16 133.76,375.36 137.44,375.36" fill="#fff" stroke="#cc4f88" stroke-width="0.8"/>
<polygon points="150.2,372.16 148.36,375.36 152.04,375.36" fill="#fff" stroke="#cc4f88" stroke-width="0.8"/>
<circle cx="48.3" cy="300" r="1.6" fill="#fff" stroke="#8fd6ea" stroke-width="0.8"/>
<circle cx="62.8" cy="319.5" r="1.6" fill="#fff" stroke="#8fd6ea" stroke-width="0.8"/>
<circle cx="77.3" cy="333" r="1.6" fill="#fff" stroke="#8fd6ea" stroke-width="0.8"/>
<circle cx="91.8" cy="342" r="1.6" fill="#fff" stroke="#8fd6ea" stroke-width="0.8"/>
<circle cx="106.4" cy="362" r="1.6" fill="#fff" stroke="#8fd6ea" stroke-width="0.8"/>
<circle cx="121" cy="372" r="1.6" fill="#fff" stroke="#8fd6ea" stroke-width="0.8"/>
<circle cx="135.6" cy="374" r="1.6" fill="#fff" stroke="#8fd6ea" stroke-width="0.8"/>
<circle cx="150.2" cy="374" r="1.6" fill="#fff" stroke="#8fd6ea" stroke-width="0.8"/>
<rect x="46.7" y="301.4" width="3.2" height="3.2" fill="#fff" stroke="#333" stroke-width="0.8"/>
<rect x="61.2" y="320.9" width="3.2" height="3.2" fill="#fff" stroke="#333" stroke-width="0.8"/>
<rect x="75.7" y="331.4" width="3.2" height="3.2" fill="#fff" stroke="#333" stroke-width="0.8"/>
<rect x="90.2" y="342.4" width="3.2" height="3.2" fill="#fff" stroke="#333" stroke-width="0.8"/>
<rect x="104.8" y="361.4" width="3.2" height="3.2" fill="#fff" stroke="#333" stroke-width="0.8"/>
<rect x="119.4" y="371.4" width="3.2" height="3.2" fill="#fff" stroke="#333" stroke-width="0.8"/>
<rect x="134" y="372.4" width="3.2" height="3.2" fill="#fff" stroke="#333" stroke-width="0.8"/>
<rect x="148.6" y="372.4" width="3.2" height="3.2" fill="#fff" stroke="#333" stroke-width="0.8"/>
<polygon points="48.3,304.07 46.23,300.47 50.37,300.47" fill="#4b2a7a"/>
<polygon points="62.8,325.37 60.73,321.77 64.87,321.77" fill="#4b2a7a"/>
<polygon points="77.3,328.07 75.23,324.47 79.37,324.47" fill="#4b2a7a"/>
<polygon points="91.8,345.07 89.73,341.47 93.87,341.47" fill="#4b2a7a"/>
<polygon points="106.4,362.27 104.33,358.67 108.47,358.67" fill="#4b2a7a"/>
<polygon points="121,374.07 118.93,370.47 123.07,370.47" fill="#4b2a7a"/>
<polygon points="135.6,376.07 133.53,372.47 137.67,372.47" fill="#4b2a7a"/>
<polygon points="150.2,376.07 148.13,372.47 152.27,372.47" fill="#4b2a7a"/>
<rect x="46.5" y="303.2" width="3.6" height="3.6" fill="#d01a60"/>
<rect x="61" y="328" width="3.6" height="3.6" fill="#d01a60"/>
<rect x="75.5" y="339.7" width="3.6" height="3.6" fill="#d01a60"/>
<rect x="90" y="357.5" width="3.6" height="3.6" fill="#d01a60"/>
<rect x="104.6" y="369.2" width="3.6" height="3.6" fill="#d01a60"/>
<rect x="119.2" y="372.2" width="3.6" height="3.6" fill="#d01a60"/>
<rect x="133.8" y="372.7" width="3.6" height="3.6" fill="#d01a60"/>
<rect x="148.4" y="372.7" width="3.6" height="3.6" fill="#d01a60"/>
<polygon points="48.3,325.84 46.46,322.64 50.14,322.64" fill="#fff" stroke="#519c97" stroke-width="0.8"/>
<polygon points="62.8,340.44 60.96,337.24 64.64,337.24" fill="#fff" stroke="#519c97" stroke-width="0.8"/>
<polygon points="77.3,349.84 75.46,346.64 79.14,346.64" fill="#fff" stroke="#519c97" stroke-width="0.8"/>
<polygon points="91.8,368.84 89.96,365.64 93.64,365.64" fill="#fff" stroke="#519c97" stroke-width="0.8"/>
<polygon points="106.4,374.84 104.56,371.64 108.24,371.64" fill="#fff" stroke="#519c97" stroke-width="0.8"/>
<polygon points="121,375.84 119.16,372.64 122.84,372.64" fill="#fff" stroke="#519c97" stroke-width="0.8"/>
<polygon points="135.6,375.84 133.76,372.64 137.44,372.64" fill="#fff" stroke="#519c97" stroke-width="0.8"/>
<polygon points="150.2,375.84 148.36,372.64 152.04,372.64" fill="#fff" stroke="#519c97" stroke-width="0.8"/>
<polygon points="48.3,368.75 46.05,371 48.3,373.25 50.55,371" fill="#b08ad8"/>
<polygon points="62.8,365.35 60.55,367.6 62.8,369.85 65.05,367.6" fill="#b08ad8"/>
<polygon points="77.3,370.25 75.05,372.5 77.3,374.75 79.55,372.5" fill="#b08ad8"/>
<polygon points="91.8,371.75 89.55,374 91.8,376.25 94.05,374" fill="#b08ad8"/>
<polygon points="106.4,372.25 104.15,374.5 106.4,376.75 108.65,374.5" fill="#b08ad8"/>
<polygon points="121,372.25 118.75,374.5 121,376.75 123.25,374.5" fill="#b08ad8"/>
<polygon points="135.6,372.25 133.35,374.5 135.6,376.75 137.85,374.5" fill="#b08ad8"/>
<polygon points="150.2,372.25 147.95,374.5 150.2,376.75 152.45,374.5" fill="#b08ad8"/>
<polygon points="48.3,369.25 46.05,371.5 48.3,373.75 50.55,371.5" fill="#6a48a8"/>
<polygon points="62.8,370.35 60.55,372.6 62.8,374.85 65.05,372.6" fill="#6a48a8"/>
<polygon points="77.3,370.65 75.05,372.9 77.3,375.15 79.55,372.9" fill="#6a48a8"/>
<polygon points="91.8,372.05 89.55,374.3 91.8,376.55 94.05,374.3" fill="#6a48a8"/>
<polygon points="106.4,372.15 104.15,374.4 106.4,376.65 108.65,374.4" fill="#6a48a8"/>
<polygon points="121,372.25 118.75,374.5 121,376.75 123.25,374.5" fill="#6a48a8"/>
<polygon points="135.6,372.25 133.35,374.5 135.6,376.75 137.85,374.5" fill="#6a48a8"/>
<polygon points="150.2,372.25 147.95,374.5 150.2,376.75 152.45,374.5" fill="#6a48a8"/>
<polygon points="48.3,303.13 46.23,306.73 50.37,306.73" fill="#2a7773"/>
<polygon points="62.8,330.93 60.73,334.53 64.87,334.53" fill="#2a7773"/>
<polygon points="77.3,344.93 75.23,348.53 79.37,348.53" fill="#2a7773"/>
<polygon points="91.8,362.93 89.73,366.53 93.87,366.53" fill="#2a7773"/>
<polygon points="106.4,370.43 104.33,374.03 108.47,374.03" fill="#2a7773"/>
<polygon points="121,371.93 118.93,375.53 123.07,375.53" fill="#2a7773"/>
<polygon points="135.6,371.93 133.53,375.53 137.67,375.53" fill="#2a7773"/>
<polygon points="150.2,371.93 148.13,375.53 152.27,375.53" fill="#2a7773"/>
<circle cx="48.3" cy="311.5" r="1.8" fill="#161616"/>
<circle cx="62.8" cy="334.8" r="1.8" fill="#161616"/>
<circle cx="77.3" cy="355.1" r="1.8" fill="#161616"/>
<circle cx="91.8" cy="368.2" r="1.8" fill="#161616"/>
<circle cx="106.4" cy="373.5" r="1.8" fill="#161616"/>
<circle cx="121" cy="374.5" r="1.8" fill="#161616"/>
<circle cx="135.6" cy="374.5" r="1.8" fill="#161616"/>
<circle cx="150.2" cy="374.5" r="1.8" fill="#161616"/>
<line x1="77.3" y1="350.5" x2="77.3" y2="359.5" stroke="#333" stroke-width="0.7"/>
<line x1="75.9" y1="350.5" x2="78.7" y2="350.5" stroke="#333" stroke-width="0.7"/>
<line x1="75.9" y1="359.5" x2="78.7" y2="359.5" stroke="#333" stroke-width="0.7"/>
<line x1="48.3" y1="299.8" x2="48.3" y2="306" stroke="#9ab" stroke-width="0.7"/>
<line x1="46.9" y1="299.8" x2="49.7" y2="299.8" stroke="#9ab" stroke-width="0.7"/>
<line x1="46.9" y1="306" x2="49.7" y2="306" stroke="#9ab" stroke-width="0.7"/>
<line x1="62.8" y1="367.1" x2="62.8" y2="372" stroke="#b08ad8" stroke-width="0.7"/>
<line x1="61.4" y1="367.1" x2="64.2" y2="367.1" stroke="#b08ad8" stroke-width="0.7"/>
<line x1="61.4" y1="372" x2="64.2" y2="372" stroke="#b08ad8" stroke-width="0.7"/>
<line x1="91.8" y1="334.4" x2="91.8" y2="344" stroke="#b08ad8" stroke-width="0.7"/>
<line x1="90.4" y1="334.4" x2="93.2" y2="334.4" stroke="#b08ad8" stroke-width="0.7"/>
<line x1="90.4" y1="344" x2="93.2" y2="344" stroke="#b08ad8" stroke-width="0.7"/>
<line x1="108.2" y1="296" x2="116.8" y2="296" stroke="#333" stroke-width="0.8"/>
<circle cx="112.5" cy="296" r="1.6" fill="#161616"/>
<text x="121.9" y="298.4" font-size="6.6" text-anchor="start" font-weight="normal" fill="#2a2a2a" color="#2a2a2a">9H11+13D9</text>
<line x1="108.2" y1="306.9" x2="116.8" y2="306.9" stroke="#cc4f88" stroke-width="0.8"/>
<rect x="110.9" y="305.3" width="3.2" height="3.2" fill="#d01a60"/>
<text x="121.9" y="309.3" font-size="6.6" text-anchor="start" font-weight="normal" fill="#2a2a2a" color="#2a2a2a">9H11+11F10</text>
<line x1="108.2" y1="317.6" x2="116.8" y2="317.6" stroke="#6a4a9a" stroke-width="0.8"/>
<polygon points="112.5,319.44 110.66,316.24 114.34,316.24" fill="#4b2a7a"/>
<text x="121.9" y="320" font-size="6.6" text-anchor="start" font-weight="normal" fill="#2a2a2a" color="#2a2a2a">9H11+38B7</text>
<line x1="108.2" y1="328.5" x2="116.8" y2="328.5" stroke="#b08ad8" stroke-width="0.8"/>
<polygon points="112.5,326.5 110.5,328.5 112.5,330.5 114.5,328.5" fill="#b08ad8"/>
<text x="121.9" y="330.9" font-size="6.6" text-anchor="start" font-weight="normal" fill="#2a2a2a" color="#2a2a2a">13D9+26C3</text>
<line x1="108.2" y1="339" x2="116.8" y2="339" stroke="#333" stroke-width="0.8"/>
<rect x="111" y="337.5" width="3" height="3" fill="#fff" stroke="#333" stroke-width="0.8"/>
<text x="121.9" y="341.4" font-size="6.6" text-anchor="start" font-weight="normal" fill="#2a2a2a" color="#2a2a2a">38B7+11F10</text>
<line x1="163.3" y1="296" x2="171.9" y2="296" stroke="#cc4f88" stroke-width="0.8"/>
<polygon points="167.6,294.27 165.88,297.27 169.32,297.27" fill="#fff" stroke="#cc4f88" stroke-width="0.8"/>
<text x="177.3" y="298.4" font-size="6.6" text-anchor="start" font-weight="normal" fill="#2a2a2a" color="#2a2a2a">13D9+38B7</text>
<line x1="163.3" y1="306.9" x2="171.9" y2="306.9" stroke="#519c97" stroke-width="0.8"/>
<polygon points="167.6,305.06 165.76,308.26 169.44,308.26" fill="#2a7773"/>
<text x="177.3" y="309.3" font-size="6.6" text-anchor="start" font-weight="normal" fill="#2a2a2a" color="#2a2a2a">9H11+26C3</text>
<line x1="163.3" y1="317.6" x2="171.9" y2="317.6" stroke="#8fd6ea" stroke-width="0.8"/>
<circle cx="167.6" cy="317.6" r="1.5" fill="#fff" stroke="#8fd6ea" stroke-width="0.8"/>
<text x="177.3" y="320" font-size="6.6" text-anchor="start" font-weight="normal" fill="#2a2a2a" color="#2a2a2a">38B7+26C3</text>
<line x1="163.3" y1="328.5" x2="171.9" y2="328.5" stroke="#7a55a8" stroke-width="0.8"/>
<polygon points="167.6,326.5 165.6,328.5 167.6,330.5 169.6,328.5" fill="#6a48a8"/>
<text x="177.3" y="330.9" font-size="6.6" text-anchor="start" font-weight="normal" fill="#2a2a2a" color="#2a2a2a">13D9+11F10</text>
<line x1="163.3" y1="339" x2="171.9" y2="339" stroke="#519c97" stroke-width="0.8"/>
<polygon points="167.6,340.73 165.88,337.73 169.32,337.73" fill="#fff" stroke="#519c97" stroke-width="0.8"/>
<text x="177.3" y="341.4" font-size="6.6" text-anchor="start" font-weight="normal" fill="#2a2a2a" color="#2a2a2a">11F10+26C3</text>
<text x="219" y="274.5" font-size="7.3" text-anchor="start" font-weight="bold" fill="#000" color="#000">F</text>
<line x1="247.6" y1="297" x2="247.6" y2="378.5" stroke="#1a1a1a" stroke-width="1.1"/>
<line x1="245.6" y1="378" x2="247.6" y2="378" stroke="#1a1a1a" stroke-width="0.9"/>
<line x1="245.6" y1="372.94" x2="247.6" y2="372.94" stroke="#1a1a1a" stroke-width="0.9"/>
<line x1="245.6" y1="367.88" x2="247.6" y2="367.88" stroke="#1a1a1a" stroke-width="0.9"/>
<line x1="245.6" y1="362.82" x2="247.6" y2="362.82" stroke="#1a1a1a" stroke-width="0.9"/>
<line x1="245.6" y1="357.76" x2="247.6" y2="357.76" stroke="#1a1a1a" stroke-width="0.9"/>
<line x1="245.6" y1="352.7" x2="247.6" y2="352.7" stroke="#1a1a1a" stroke-width="0.9"/>
<line x1="245.6" y1="347.64" x2="247.6" y2="347.64" stroke="#1a1a1a" stroke-width="0.9"/>
<line x1="245.6" y1="342.58" x2="247.6" y2="342.58" stroke="#1a1a1a" stroke-width="0.9"/>
<line x1="245.6" y1="337.52" x2="247.6" y2="337.52" stroke="#1a1a1a" stroke-width="0.9"/>
<line x1="245.6" y1="332.46" x2="247.6" y2="332.46" stroke="#1a1a1a" stroke-width="0.9"/>
<line x1="245.6" y1="327.4" x2="247.6" y2="327.4" stroke="#1a1a1a" stroke-width="0.9"/>
<line x1="245.6" y1="322.34" x2="247.6" y2="322.34" stroke="#1a1a1a" stroke-width="0.9"/>
<line x1="245.6" y1="317.28" x2="247.6" y2="317.28" stroke="#1a1a1a" stroke-width="0.9"/>
<line x1="245.6" y1="312.22" x2="247.6" y2="312.22" stroke="#1a1a1a" stroke-width="0.9"/>
<line x1="245.6" y1="307.16" x2="247.6" y2="307.16" stroke="#1a1a1a" stroke-width="0.9"/>
<line x1="245.6" y1="302.1" x2="247.6" y2="302.1" stroke="#1a1a1a" stroke-width="0.9"/>
<line x1="245.6" y1="297.04" x2="247.6" y2="297.04" stroke="#1a1a1a" stroke-width="0.9"/>
<line x1="244.7" y1="378" x2="247.6" y2="378" stroke="#1a1a1a" stroke-width="0.9"/>
<text x="243.2" y="380.2" font-size="6.2" text-anchor="end" font-weight="normal" fill="#2a2a2a" color="#2a2a2a">0</text>
<line x1="244.7" y1="352.7" x2="247.6" y2="352.7" stroke="#1a1a1a" stroke-width="0.9"/>
<text x="243.2" y="354.9" font-size="6.2" text-anchor="end" font-weight="normal" fill="#2a2a2a" color="#2a2a2a">50</text>
<line x1="244.7" y1="327.4" x2="247.6" y2="327.4" stroke="#1a1a1a" stroke-width="0.9"/>
<text x="243.2" y="329.6" font-size="6.2" text-anchor="end" font-weight="normal" fill="#2a2a2a" color="#2a2a2a">100</text>
<line x1="244.7" y1="302.1" x2="247.6" y2="302.1" stroke="#1a1a1a" stroke-width="0.9"/>
<text x="243.2" y="304.3" font-size="6.2" text-anchor="end" font-weight="normal" fill="#2a2a2a" color="#2a2a2a">150</text>
<text x="228" y="337.7" font-size="6.7" text-anchor="middle" font-weight="normal" fill="#2a2a2a" color="#2a2a2a" transform="rotate(-90 228 337.7)">AUC of normalized data</text>
<line x1="247.1" y1="378" x2="370.5" y2="378" stroke="#1a1a1a" stroke-width="1.1"/>
<rect x="252.2" y="350.5" width="8" height="27.5" fill="#6e6e6e" stroke="#1a1a1a" stroke-width="0.9"/>
<line x1="256.2" y1="337.5" x2="256.2" y2="350.5" stroke="#1a1a1a" stroke-width="0.7"/>
<line x1="254.8" y1="337.5" x2="257.6" y2="337.5" stroke="#1a1a1a" stroke-width="0.7"/>
<line x1="254.8" y1="350.5" x2="257.6" y2="350.5" stroke="#1a1a1a" stroke-width="0.7"/>
<circle cx="256.2" cy="341.2" r="1.5" fill="#161616"/>
<circle cx="256.2" cy="345.5" r="1.5" fill="#161616"/>
<circle cx="256.2" cy="364.5" r="1.5" fill="#161616"/>
<rect x="263.8" y="323" width="8" height="55" fill="#ff6ea6" stroke="#d8407a" stroke-width="0.9"/>
<line x1="267.8" y1="310" x2="267.8" y2="323" stroke="#d8407a" stroke-width="0.7"/>
<line x1="266.4" y1="310" x2="269.2" y2="310" stroke="#d8407a" stroke-width="0.7"/>
<line x1="266.4" y1="323" x2="269.2" y2="323" stroke="#d8407a" stroke-width="0.7"/>
<rect x="266.3" y="309" width="3" height="3" fill="#d01a60"/>
<rect x="266.3" y="326" width="3" height="3" fill="#d01a60"/>
<rect x="266.3" y="331.5" width="3" height="3" fill="#d01a60"/>
<rect x="275.5" y="337" width="7.7" height="41" fill="#72bfb9" stroke="#3a918c" stroke-width="0.9"/>
<line x1="279.35" y1="326" x2="279.35" y2="337" stroke="#3a918c" stroke-width="0.7"/>
<line x1="277.95" y1="326" x2="280.75" y2="326" stroke="#3a918c" stroke-width="0.7"/>
<line x1="277.95" y1="337" x2="280.75" y2="337" stroke="#3a918c" stroke-width="0.7"/>
<polygon points="279.35,324.57 277.62,327.57 281.08,327.57" fill="#2a7773"/>
<polygon points="279.35,337.77 277.62,340.77 281.08,340.77" fill="#2a7773"/>
<polygon points="279.35,343.77 277.62,346.77 281.08,346.77" fill="#2a7773"/>
<rect x="287.4" y="310" width="7.8" height="68" fill="#9a6bc8" stroke="#55308a" stroke-width="0.9"/>
<line x1="291.3" y1="303.5" x2="291.3" y2="310" stroke="#55308a" stroke-width="0.7"/>
<line x1="289.9" y1="303.5" x2="292.7" y2="303.5" stroke="#55308a" stroke-width="0.7"/>
<line x1="289.9" y1="310" x2="292.7" y2="310" stroke="#55308a" stroke-width="0.7"/>
<polygon points="291.3,305.53 289.57,302.53 293.02,302.53" fill="#4b2a7a"/>
<polygon points="291.3,310.53 289.57,307.53 293.02,307.53" fill="#4b2a7a"/>
<polygon points="291.3,316.23 289.57,313.23 293.02,313.23" fill="#4b2a7a"/>
<rect x="299.2" y="368" width="7.9" height="10" fill="#d6bdf0" stroke="#9a73c4" stroke-width="0.9"/>
<line x1="303.15" y1="359.5" x2="303.15" y2="368" stroke="#9a73c4" stroke-width="0.7"/>
<line x1="301.75" y1="359.5" x2="304.55" y2="359.5" stroke="#9a73c4" stroke-width="0.7"/>
<line x1="301.75" y1="368" x2="304.55" y2="368" stroke="#9a73c4" stroke-width="0.7"/>
<polygon points="303.15,358.62 301.27,360.5 303.15,362.38 305.02,360.5" fill="#b08ad8"/>
<polygon points="303.15,370.62 301.27,372.5 303.15,374.38 305.02,372.5" fill="#b08ad8"/>
<rect x="310.6" y="322" width="8.1" height="56" fill="#b5e7f7" stroke="#7ccbe3" stroke-width="0.9"/>
<line x1="314.65" y1="315" x2="314.65" y2="322" stroke="#7ccbe3" stroke-width="0.7"/>
<line x1="313.25" y1="315" x2="316.05" y2="315" stroke="#7ccbe3" stroke-width="0.7"/>
<line x1="313.25" y1="322" x2="316.05" y2="322" stroke="#7ccbe3" stroke-width="0.7"/>
<circle cx="314.65" cy="315" r="1.4" fill="#fff" stroke="#7ccbe3" stroke-width="0.8"/>
<circle cx="314.65" cy="322.5" r="1.4" fill="#fff" stroke="#7ccbe3" stroke-width="0.8"/>
<rect x="322.2" y="319.5" width="8.2" height="58.5" fill="#6e6e6e" stroke="#1a1a1a" stroke-width="0.9"/>
<line x1="326.3" y1="313.5" x2="326.3" y2="319.5" stroke="#1a1a1a" stroke-width="0.7"/>
<line x1="324.9" y1="313.5" x2="327.7" y2="313.5" stroke="#1a1a1a" stroke-width="0.7"/>
<line x1="324.9" y1="319.5" x2="327.7" y2="319.5" stroke="#1a1a1a" stroke-width="0.7"/>
<rect x="324.9" y="312.4" width="2.8" height="2.8" fill="#fff" stroke="#1a1a1a" stroke-width="0.8"/>
<rect x="324.9" y="314.9" width="2.8" height="2.8" fill="#fff" stroke="#1a1a1a" stroke-width="0.8"/>
<rect x="324.9" y="320.6" width="2.8" height="2.8" fill="#fff" stroke="#1a1a1a" stroke-width="0.8"/>
<rect x="324.9" y="326.1" width="2.8" height="2.8" fill="#fff" stroke="#1a1a1a" stroke-width="0.8"/>
<rect x="334.1" y="328" width="7.9" height="50" fill="#ff6ea6" stroke="#d8407a" stroke-width="0.9"/>
<line x1="338.05" y1="320.5" x2="338.05" y2="328" stroke="#d8407a" stroke-width="0.7"/>
<line x1="336.65" y1="320.5" x2="339.45" y2="320.5" stroke="#d8407a" stroke-width="0.7"/>
<line x1="336.65" y1="328" x2="339.45" y2="328" stroke="#d8407a" stroke-width="0.7"/>
<polygon points="338.05,318.89 336.44,321.69 339.66,321.69" fill="#fff" stroke="#d8407a" stroke-width="0.8"/>
<polygon points="338.05,325.39 336.44,328.19 339.66,328.19" fill="#fff" stroke="#d8407a" stroke-width="0.8"/>
<polygon points="338.05,336.69 336.44,339.49 339.66,339.49" fill="#fff" stroke="#d8407a" stroke-width="0.8"/>
<rect x="346.3" y="339.5" width="7.9" height="38.5" fill="#72bfb9" stroke="#3a918c" stroke-width="0.9"/>
<line x1="350.25" y1="334.5" x2="350.25" y2="339.5" stroke="#3a918c" stroke-width="0.7"/>
<line x1="348.85" y1="334.5" x2="351.65" y2="334.5" stroke="#3a918c" stroke-width="0.7"/>
<line x1="348.85" y1="339.5" x2="351.65" y2="339.5" stroke="#3a918c" stroke-width="0.7"/>
<polygon points="350.25,336.11 348.64,333.31 351.86,333.31" fill="#fff" stroke="#3a918c" stroke-width="0.8"/>
<polygon points="350.25,341.61 348.64,338.81 351.86,338.81" fill="#fff" stroke="#3a918c" stroke-width="0.8"/>
<polygon points="350.25,343.61 348.64,340.81 351.86,340.81" fill="#fff" stroke="#3a918c" stroke-width="0.8"/>
<rect x="358.2" y="372" width="7.6" height="6" fill="#8a5cc4" stroke="#4a2a80" stroke-width="0.9"/>
<line x1="362" y1="366.5" x2="362" y2="372" stroke="#4a2a80" stroke-width="0.7"/>
<line x1="360.6" y1="366.5" x2="363.4" y2="366.5" stroke="#4a2a80" stroke-width="0.7"/>
<line x1="360.6" y1="372" x2="363.4" y2="372" stroke="#4a2a80" stroke-width="0.7"/>
<polygon points="362,366.12 360.12,368 362,369.88 363.88,368" fill="#6a48a8"/>
<polygon points="362,369.43 360.12,371.3 362,373.18 363.88,371.3" fill="#6a48a8"/>
<line x1="249" y1="369.8" x2="368" y2="369.8" stroke="#4a6a68" stroke-width="0.75" stroke-dasharray="0.9 1.3"/>
<circle cx="239.6" cy="284.4" r="1.7" fill="#111"/>
</g>
</svg></body></html>
